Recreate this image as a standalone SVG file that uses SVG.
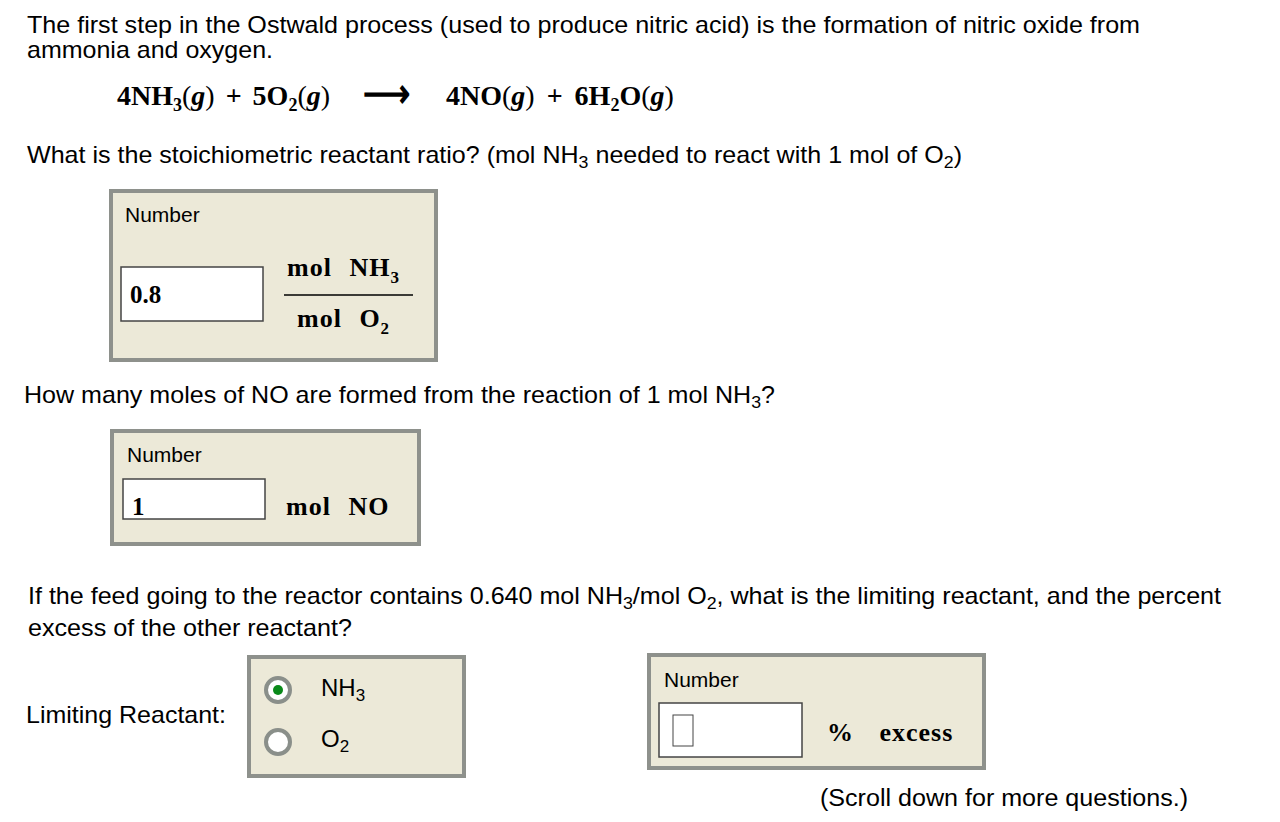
<svg xmlns="http://www.w3.org/2000/svg" width="1280" height="822" viewBox="0 0 1280 822">
<style>
.t{font-family:"Liberation Sans",Arial,sans-serif;font-size:24px;fill:#000}
.s{font-family:"Liberation Sans",Arial,sans-serif;font-size:21px;fill:#000}
.m{font-family:"Liberation Serif","Times New Roman",serif;font-weight:bold;fill:#000}
.box{fill:#ECE9D8;stroke:#8E918C;stroke-width:4}
.in{fill:#fff;stroke:#444;stroke-width:1.5}
</style>
<rect width="1280" height="822" fill="#fff"/>
<text class="t" x="27" y="33" font-size="23" textLength="1113" lengthAdjust="spacingAndGlyphs">The first step in the Ostwald process (used to produce nitric acid) is the formation of nitric oxide from</text>
<text class="t" x="27" y="58" font-size="23" textLength="246" lengthAdjust="spacingAndGlyphs">ammonia and oxygen.</text>
<text class="m" font-size="28" x="117" y="105" word-spacing="4">4NH<tspan font-size="18" dy="6">3</tspan><tspan dy="-6" font-weight="normal">(</tspan><tspan font-style="italic">g</tspan><tspan font-weight="normal">)</tspan> + 5O<tspan font-size="18" dy="6">2</tspan><tspan dy="-6" font-weight="normal">(</tspan><tspan font-style="italic">g</tspan><tspan font-weight="normal">)</tspan></text>
<text class="m" font-size="40" x="363" y="107" textLength="47" lengthAdjust="spacingAndGlyphs">⟶</text>
<text class="m" font-size="28" x="446" y="105" word-spacing="5">4NO<tspan font-weight="normal">(</tspan><tspan font-style="italic">g</tspan><tspan font-weight="normal">)</tspan> + 6H<tspan font-size="18" dy="6">2</tspan><tspan dy="-6">O</tspan><tspan font-weight="normal">(</tspan><tspan font-style="italic">g</tspan><tspan font-weight="normal">)</tspan></text>
<text class="t" x="27" y="163" textLength="935" lengthAdjust="spacingAndGlyphs">What is the stoichiometric reactant ratio? (mol NH<tspan font-size="17" dy="5">3</tspan><tspan dy="-5"> needed to react with 1 mol of O</tspan><tspan font-size="17" dy="5">2</tspan><tspan dy="-5">)</tspan></text>
<g id="box1">
<rect class="box" x="111" y="191" width="325" height="169"/>
<text class="s" x="125" y="222">Number</text>
<rect class="in" x="121" y="267" width="142" height="54"/>
<text class="m" font-size="25" x="130" y="303">0.8</text>
<text class="m" font-size="26" x="287" y="276" letter-spacing="1" word-spacing="10">mol NH<tspan font-size="17" dy="7">3</tspan></text>
<line x1="284" y1="295" x2="413" y2="295" stroke="#000" stroke-width="1.5"/>
<text class="m" font-size="26" x="297" y="327" letter-spacing="1" word-spacing="10">mol O<tspan font-size="17" dy="7">2</tspan></text>
</g>
<text class="t" x="24" y="403" textLength="751" lengthAdjust="spacingAndGlyphs">How many moles of NO are formed from the reaction of 1 mol NH<tspan font-size="17" dy="5">3</tspan><tspan dy="-5">?</tspan></text>
<g id="box2">
<rect class="box" x="112" y="431" width="307" height="113"/>
<text class="s" x="127" y="462">Number</text>
<rect class="in" x="123" y="479" width="142" height="40"/>
<text class="m" font-size="25" x="132" y="515">1</text>
<text class="m" font-size="26" x="286" y="515" letter-spacing="1" word-spacing="10">mol NO</text>
</g>
<text class="t" x="28" y="604" textLength="1193" lengthAdjust="spacingAndGlyphs">If the feed going to the reactor contains 0.640 mol NH<tspan font-size="17" dy="5">3</tspan><tspan dy="-5">/mol O</tspan><tspan font-size="17" dy="5">2</tspan><tspan dy="-5">, what is the limiting reactant, and the percent</tspan></text>
<text class="t" x="28" y="636" textLength="324" lengthAdjust="spacingAndGlyphs">excess of the other reactant?</text>
<text class="t" x="26" y="723" textLength="200" lengthAdjust="spacingAndGlyphs">Limiting Reactant:</text>
<g id="box3">
<rect class="box" x="249" y="657" width="215" height="119"/>
<circle cx="278" cy="690" r="12" fill="#fff" stroke="#8A8F8A" stroke-width="4"/>
<circle cx="278" cy="690" r="5" fill="#0A8A1A"/>
<text class="t" x="321" y="696">NH<tspan font-size="17" dy="5">3</tspan></text>
<circle cx="278" cy="742" r="12" fill="#fff" stroke="#8A8F8A" stroke-width="4"/>
<text class="t" x="321" y="747">O<tspan font-size="17" dy="5">2</tspan></text>
</g>
<g id="box4">
<rect class="box" x="649" y="655" width="335" height="113"/>
<text class="s" x="664" y="687">Number</text>
<rect class="in" x="659" y="703" width="143" height="54"/>
<rect x="673" y="715" width="20" height="31" fill="#fff" stroke="#444" stroke-width="1"/>
<text class="m" font-size="26" x="827" y="741" letter-spacing="1" word-spacing="18">% excess</text>
</g>
<text x="820" y="806" font-family="Liberation Sans,Arial,sans-serif" font-size="23" textLength="368" lengthAdjust="spacingAndGlyphs">(Scroll down for more questions.)</text>
</svg>
